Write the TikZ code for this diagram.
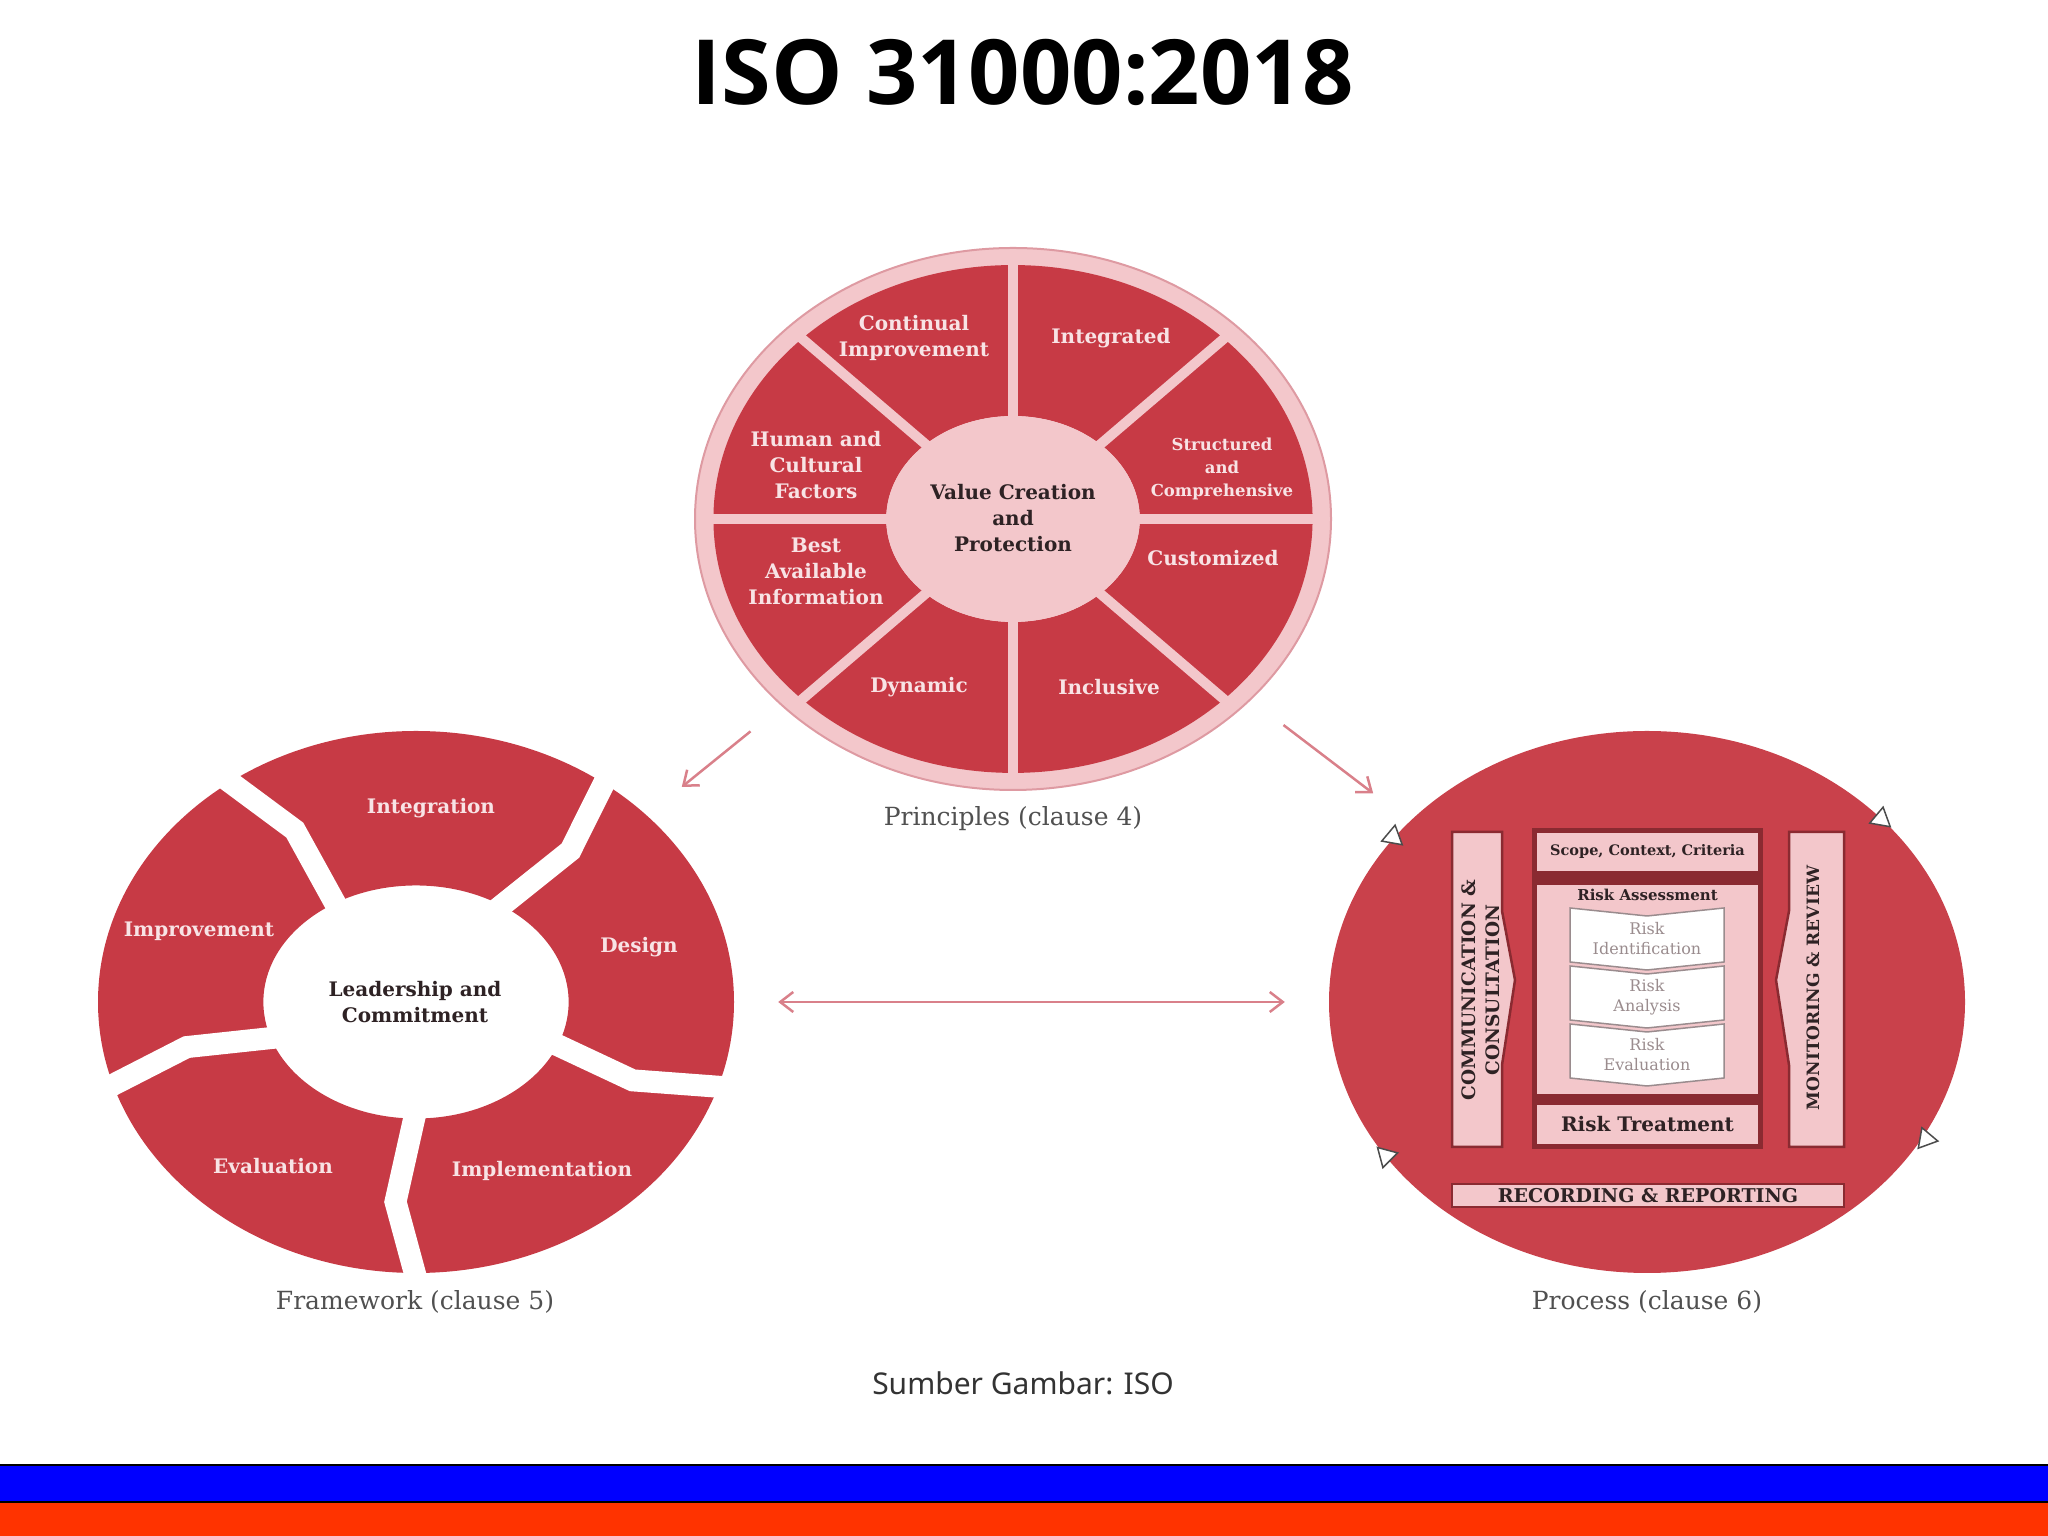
\documentclass[tikz,border=0pt]{standalone}
\usepackage{fontspec}
\usepackage{tikz}
\usetikzlibrary{shapes.geometric,arrows.meta}
\setmainfont{DejaVu Serif}
\newfontfamily\titlefont{Open Sans}
\newfontfamily\notefont{Noto Sans}
\definecolor{wedgered}{HTML}{C73A45}
\definecolor{procred}{HTML}{C9414B}
\definecolor{ringpink}{HTML}{F3C7CB}
\definecolor{rimpink}{HTML}{DE9AA2}
\definecolor{labelpink}{HTML}{F8E3E5}
\definecolor{darkred}{HTML}{8A2A31}
\definecolor{inkdark}{HTML}{2E2224}
\definecolor{captiongray}{HTML}{505050}
\definecolor{arrowpink}{HTML}{D9808A}
\definecolor{stepgray}{HTML}{9A8C8E}
\definecolor{bandblue}{HTML}{0000FF}
\definecolor{bandred}{HTML}{FF3300}
% chevron step inside the risk assessment box: name, top y, text
\newcommand{\riskstep}[3]{%
  \filldraw[fill=white, draw=stepgray, line width=1.5pt]
    (1570,#2) -- (1647,#2-8) -- (1724,#2) -- (1724,#2-54) -- (1647,#2-62) -- (1570,#2-54) -- cycle;
  \node[steptext] (#1) at (1647,#2-31) {#3};}

\begin{document}
\begin{tikzpicture}[x=1pt, y=1pt,
    wedgetext/.style={text=labelpink, font=\bfseries\fontsize{20}{26}\selectfont, align=center},
    hubtext/.style={text=inkdark, font=\bfseries\fontsize{20}{26}\selectfont, align=center},
    caption/.style={text=captiongray, font=\fontsize{25}{30}\selectfont},
    disc/.style={ellipse, minimum width=636pt, minimum height=542pt, inner sep=0pt},
    procbox/.style={draw=darkred, fill=ringpink, line width=2pt, minimum width=223pt, inner sep=0pt, text=inkdark, font=\bfseries\fontsize{14.5}{17}\selectfont},
    sidebar/.style={fill=ringpink, draw=darkred, line width=2.5pt},
    steptext/.style={text=stepgray, font=\fontsize{16}{20}\selectfont, align=center},
    tri/.style={isosceles triangle, isosceles triangle apex angle=60, draw=black!70, fill=white, line width=1.5pt, minimum height=18pt, minimum width=16pt, inner sep=0pt},
    flow/.style={draw=arrowpink, line width=2.5pt, -{Straight Barb[length=13pt, width=20pt]}},
    both/.style={draw=arrowpink, line width=2.5pt, {Straight Barb[length=13pt, width=20pt]}-{Straight Barb[length=13pt, width=20pt]}}
  ]
  \useasboundingbox (0,0) rectangle (2048,1536);
  \node[font=\titlefont\bfseries\fontsize{90}{100}\selectfont] (title) at (1023,1464) {ISO 31000:2018};

  % principles
  \node[disc, fill=ringpink, draw=rimpink, line width=2pt] (prin) at (1013,1017) {};
  \begin{scope}[shift={(prin.center)}, x=317pt, y=271pt]
    \fill[wedgered, even odd rule] (0,0) ellipse[x radius=0.945, y radius=0.937] (0,0) ellipse[x radius=0.40, y radius=0.38];
    \foreach \a in {0,45,...,315}
      \draw[ringpink, line width=10pt] (0,0) -- (\a:0.95);
    \fill[ringpink] (0,0) ellipse[x radius=0.40, y radius=0.38];
  \end{scope}
  \node[wedgetext] (contimp) at (914,1198) {Continual\\Improvement};
  \node[wedgetext] (integrated) at (1111,1198) {Integrated};
  \node[wedgetext, font=\bfseries\fontsize{16.5}{23}\selectfont] (structured) at (1222,1067) {Structured\\and\\Comprehensive};
  \node[wedgetext] (customized) at (1213,978) {Customized};
  \node[wedgetext] (inclusive) at (1109,849) {Inclusive};
  \node[wedgetext] (dynamic) at (919,849) {Dynamic};
  \node[wedgetext] (bestinfo) at (816,965) {Best\\Available\\Information};
  \node[wedgetext] (human) at (816,1071) {Human and\\Cultural\\Factors};
  \node[hubtext] (value) at (1013,1018) {Value Creation\\and\\Protection};
  \node[caption] (princap) at (1013,717) {Principles (clause 4)};

  % framework
  \node[disc] (frame) at (416,534) {};
  \begin{scope}[shift={(frame.center)}, x=318pt, y=271pt]
    \fill[wedgered, even odd rule] (0,0) ellipse[x radius=1, y radius=1] (0,0) ellipse[x radius=0.48, y radius=0.43];
    \foreach \g in {55,127,199,271,343}
      \draw[white, line width=22pt] (\g:1.1) -- ({\g-6}:0.74) -- ({\g-1}:0.4);
  \end{scope}
  \node[wedgetext] (integration) at (431,728) {Integration};
  \node[wedgetext] (design) at (639,589) {Design};
  \node[wedgetext] (implement) at (542,365) {Implementation};
  \node[wedgetext] (evaluation) at (273,370) {Evaluation};
  \node[wedgetext] (improvement) at (199,605) {Improvement};
  \node[hubtext] (leader) at (415,534) {Leadership and\\Commitment};
  \node[caption] (framecap) at (415,234) {Framework (clause 5)};

  % process
  \node[disc, fill=procred] (proc) at (1647,534) {};
  \filldraw[sidebar] (1452,389) -- (1452,704) -- (1502,704) -- (1502,625) -- (1515,556) -- (1502,471) -- (1502,389) -- cycle;
  \filldraw[sidebar] (1789,389) -- (1789,471) -- (1776,556) -- (1789,625) -- (1789,704) -- (1844,704) -- (1844,389) -- cycle;
  \node[rotate=90, align=center, text=inkdark, font=\bfseries\fontsize{18.5}{24}\selectfont] (commcons) at (1481,546) {COMMUNICATION \&\\CONSULTATION};
  \node[rotate=90, text=inkdark, font=\bfseries\fontsize{17}{24}\selectfont] (monrev) at (1813,548) {MONITORING \& REVIEW};
  \fill[darkred] (1532,387) rectangle (1763,708);
  \node[procbox, minimum height=40pt] (scope) at (1647.5,684) {Scope, Context, Criteria};
  \node[procbox, minimum height=211pt, anchor=north] (assess) at (1647.5,653) {};
  \node[text=inkdark, font=\bfseries\fontsize{15}{18}\selectfont] (assesstitle) at (1647.5,641) {Risk Assessment};
  \riskstep{identify}{628}{Risk\\Identification}
  \riskstep{analyse}{570}{Risk\\Analysis}
  \riskstep{evaluate}{512}{Risk\\Evaluation}
  \node[procbox, minimum height=41pt, font=\bfseries\fontsize{20}{24}\selectfont] (treat) at (1647.5,411.5) {Risk Treatment};
  \node[procbox, minimum width=392pt, minimum height=23pt, font=\bfseries\fontsize{19}{20}\selectfont] (record) at (1648,340) {RECORDING \& REPORTING};
  \node[tri, rotate=-40] (tri1) at (1393,699) {};
  \node[tri, rotate=200] (tri2) at (1881,717) {};
  \node[tri, rotate=15] (tri3) at (1386,380) {};
  \node[tri, rotate=-10] (tri4) at (1926,397) {};
  \node[caption] (proccap) at (1647,234) {Process (clause 6)};

  % connectors
  \draw[flow, shorten <=40pt, shorten >=45pt] (prin) -- (frame);
  \draw[flow, shorten <=41pt, shorten >=46pt] (prin) -- (proc);
  \draw[both, shorten <=44pt, shorten >=44pt] (frame) -- (proc);

  \node[text=black!80, font=\notefont\fontsize{30}{34}\selectfont] (source) at (1023,153) {Sumber Gambar: ISO};

  % bottom bands
  \fill[bandred] (0,0) rectangle (2048,34);
  \fill[bandblue] (0,34) rectangle (2048,71);
  \draw[black, line width=2pt] (0,34) -- (2048,34);
  \draw[black, line width=2pt] (0,71) -- (2048,71);
\end{tikzpicture}
\end{document}
